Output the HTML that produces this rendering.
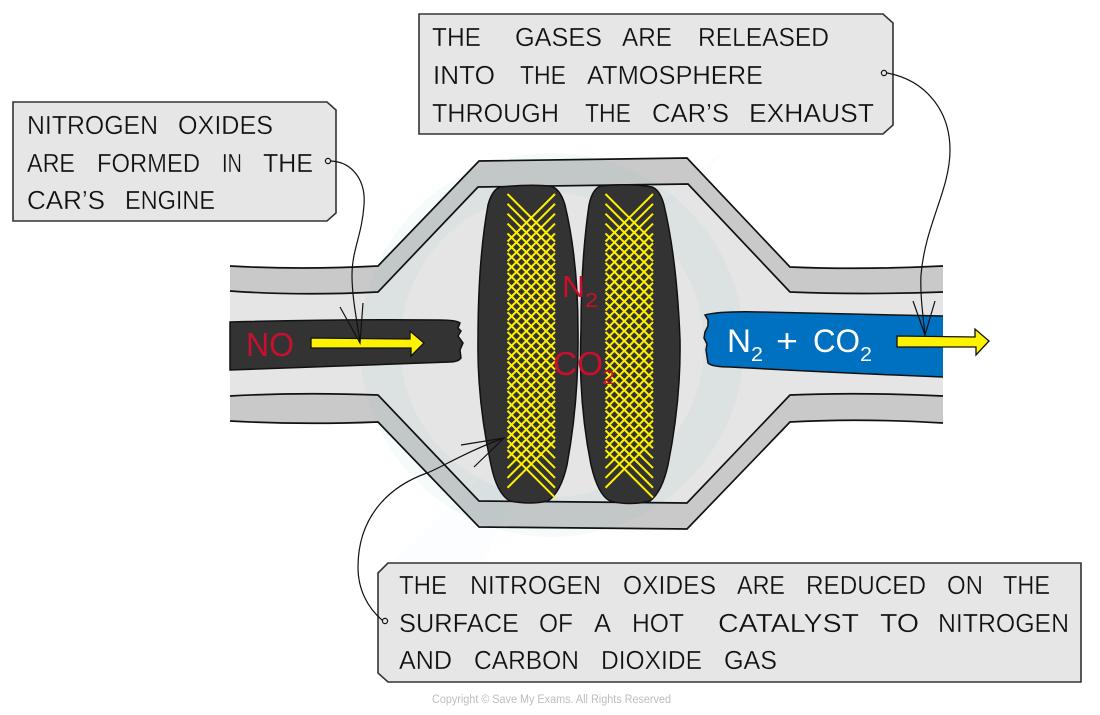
<!DOCTYPE html>
<html><head><meta charset="utf-8"><style>
html,body{margin:0;padding:0;background:#fff}
svg{display:block}
.t text{font-family:"Liberation Sans",sans-serif;font-size:25.5px;fill:#111;stroke:#e6e6e6;stroke-width:.3px}
.r{font-family:"Liberation Sans",sans-serif;fill:#c8102e}
.w{font-family:"Liberation Sans",sans-serif;fill:#fff}
</style></head><body>
<svg width="1100" height="715" viewBox="0 0 1100 715" xmlns="http://www.w3.org/2000/svg">
<rect width="1100" height="715" fill="#fff"/>
<!-- watermark on paper and tube -->
<path d="M230 280L378 280L479 175H687L790 280H943V410H790L687 515H479L378 410H230Z" fill="#e5e5e5"/>
<g fill="#c9c9c9">
<path d="M230 266Q300 270 378 266L479 161L687 158L790 267Q860 270 943 266V292Q860 295 790 292L688 184L478 187L378 292Q300 296 230 291Z"/>
<path d="M230 396Q300 392 378 395L479 501L687 503L790 395Q860 392 943 396V423Q860 418 790 422L687 529L479 527L378 422Q300 425 230 421Z"/>
</g>
<circle cx="552" cy="345" r="172" fill="none" stroke="#6fb6cc" stroke-width="40" opacity=".07"/>
<path d="M395 560L560 400L470 590Z M735 140L560 290L690 190Z" fill="#8fcbe0" opacity=".04"/>
<g fill="none" stroke="#111" stroke-width="1.7">
<path d="M230 266Q300 270 378 266L479 161L687 158L790 267Q860 270 943 266"/>
<path d="M230 291Q300 296 378 292L478 187L688 184L790 292Q860 295 943 292"/>
<path d="M230 396Q300 392 378 395L479 501L687 503L790 395Q860 392 943 396"/>
<path d="M230 421Q300 425 378 422L479 527L687 529L790 422Q860 418 943 423"/>
</g>
<!-- streams -->
<path d="M230 322Q340 319 440 320Q456 320 460 323L458 328L461 331L458 336L463 343L460 350L461 358Q458 362 450 362Q340 366 230 370Z" fill="#333" stroke="#111" stroke-width="1.5"/>
<path d="M943 316Q840 314 760 312Q720 311 705 315L708 320L708 326L705 332L704 338L707 344L706 350L708 363Q712 367 730 367Q840 373 943 377Z" fill="#0070c0"/>
<path d="M943 316Q840 314 760 312Q720 311 705 315L708 320L708 326L705 332L704 338L707 344L706 350L708 363Q712 367 730 367Q840 373 943 377" fill="none" stroke="#111" stroke-width="1.5"/>
<!-- catalyst -->
<path d="M500 187Q530 184 550 186Q560 188 565 205Q578 260 578 330Q579 400 567 465Q561 492 548 501Q530 505 510 501Q497 494 491 465Q477 400 478 340Q478 260 488 205Q492 190 500 187Z" fill="#333" stroke="#111" stroke-width="1.5"/>
<path d="M600 186Q630 183 652 187Q660 190 664 205Q677 260 680 340Q681 400 668 465Q662 492 650 501Q630 506 610 501Q598 495 591 465Q578 400 581 330Q581 260 589 205Q592 190 600 186Z" fill="#333" stroke="#111" stroke-width="1.5"/>
<g id="h" fill="none" stroke="#fff000" stroke-width="2">
<path d="M507.500 194l47.500 47.500m-47.500-37.650l47.500 47.500m-47.500-37.650l47.500 47.500m-47.500-37.650l47.500 47.500m-47.500-37.650l47.500 47.500m-47.500-37.650l47.500 47.500m-47.500-37.650l47.500 47.500m-47.500-37.650l47.500 47.500m-47.500-37.650l47.500 47.500m-47.500-37.650l47.500 47.500m-47.500-37.650l47.500 47.500m-47.500-37.650l47.500 47.500m-47.500-37.650l47.500 47.500m-47.500-37.650l47.500 47.500m-47.500-37.650l47.500 47.500m-47.500-37.650l47.500 47.500m-47.500-37.650l47.500 47.500m-47.500-37.650l47.500 47.500m-47.500-37.650l47.500 47.500m-47.500-37.650l47.500 47.500m-47.500-37.650l47.500 47.500m-47.500-37.650l47.500 47.500m-47.500-37.650l47.500 47.500m-47.500-37.650l47.500 47.500m-47.500-37.650l47.500 47.500m-47.500-37.650l47.500 47.500m-47.500-37.650l47.500 47.500"/>
<path d="M555 194l-47.500 47.500m47.500-37.650l-47.500 47.500m47.500-37.650l-47.500 47.500m47.500-37.650l-47.500 47.500m47.500-37.650l-47.500 47.500m47.500-37.650l-47.500 47.500m47.500-37.650l-47.500 47.500m47.500-37.650l-47.500 47.500m47.500-37.650l-47.500 47.500m47.500-37.650l-47.500 47.500m47.500-37.650l-47.500 47.500m47.500-37.650l-47.500 47.500m47.500-37.650l-47.500 47.500m47.500-37.650l-47.500 47.500m47.500-37.650l-47.500 47.500m47.500-37.650l-47.500 47.500m47.500-37.650l-47.500 47.500m47.500-37.650l-47.500 47.500m47.500-37.650l-47.500 47.500m47.500-37.650l-47.500 47.500m47.500-37.650l-47.500 47.500m47.500-37.650l-47.500 47.500m47.500-37.650l-47.500 47.500m47.500-37.650l-47.500 47.500m47.500-37.650l-47.500 47.500m47.500-37.650l-47.500 47.500"/>
</g>
<use href="#h" x="98" y="0"/>
<!-- arrows -->
<path d="M311 338L410 339V331L424 343L411 356V348L311 348Z" fill="#fff200" stroke="#111" stroke-width="1.3"/>
<path d="M897 336L975 337V329L989 341L976 355V347L897 347Z" fill="#fff200" stroke="#111" stroke-width="1.3"/>
<!-- boxes -->
<path d="M13 102H327L336 110V213L327 221H13Z" fill="#e6e6e6" stroke="#333" stroke-width="1.6"/>
<path d="M419 14H883L893 23V125L883 134H419Z" fill="#e6e6e6" stroke="#333" stroke-width="1.6"/>
<path d="M388 563H1081V682H388L378 673V573Z" fill="#e6e6e6" stroke="#333" stroke-width="1.6"/>
<!-- connectors -->
<g fill="none" stroke="#111" stroke-width="1.2">
<path d="M331 161C352 162 366 180 364 205C362 235 352 250 352 275C352 300 358 325 360 343"/>
<path d="M340 307L360 343L363 303"/>
<path d="M887 73C925 80 950 110 950 150C950 190 925 225 921 275C920 295 923 315 925 335"/>
<path d="M913 301L925 335L935 301"/>
<path d="M504 438C470 450 440 468 427 473C385 488 358 520 358 567C358 590 368 608 382 620"/>
<path d="M461 445L504 438L474 467"/>
<circle cx="328" cy="161" r="2.6" fill="#e6e6e6"/>
<circle cx="884" cy="73" r="2.6" fill="#e6e6e6"/>
<circle cx="385" cy="621" r="2.6" fill="#e6e6e6"/>
</g>
<!-- box text -->
<g class="t">
<text x="27" y="134" textLength="131" lengthAdjust="spacingAndGlyphs">NITROGEN</text>
<text x="178" y="134" textLength="95" lengthAdjust="spacingAndGlyphs">OXIDES</text>
<text x="27" y="172" textLength="48" lengthAdjust="spacingAndGlyphs">ARE</text>
<text x="97" y="172" textLength="103" lengthAdjust="spacingAndGlyphs">FORMED</text>
<text x="222" y="172" textLength="20" lengthAdjust="spacingAndGlyphs">IN</text>
<text x="263" y="172" textLength="50" lengthAdjust="spacingAndGlyphs">THE</text>
<text x="27" y="209" textLength="78" lengthAdjust="spacingAndGlyphs">CAR’S</text>
<text x="125" y="209" textLength="90" lengthAdjust="spacingAndGlyphs">ENGINE</text>

<text x="432" y="46" textLength="49" lengthAdjust="spacingAndGlyphs">THE</text>
<text x="515" y="46" textLength="87" lengthAdjust="spacingAndGlyphs">GASES</text>
<text x="622" y="46" textLength="50" lengthAdjust="spacingAndGlyphs">ARE</text>
<text x="698" y="46" textLength="131" lengthAdjust="spacingAndGlyphs">RELEASED</text>
<text x="433" y="84" textLength="62" lengthAdjust="spacingAndGlyphs">INTO</text>
<text x="520" y="84" textLength="46" lengthAdjust="spacingAndGlyphs">THE</text>
<text x="587" y="84" textLength="176" lengthAdjust="spacingAndGlyphs">ATMOSPHERE</text>
<text x="432" y="122" textLength="127" lengthAdjust="spacingAndGlyphs">THROUGH</text>
<text x="585" y="122" textLength="46" lengthAdjust="spacingAndGlyphs">THE</text>
<text x="652" y="122" textLength="77" lengthAdjust="spacingAndGlyphs">CAR’S</text>
<text x="749" y="122" textLength="125" lengthAdjust="spacingAndGlyphs">EXHAUST</text>

<text x="399" y="594" textLength="48" lengthAdjust="spacingAndGlyphs">THE</text>
<text x="470" y="594" textLength="131" lengthAdjust="spacingAndGlyphs">NITROGEN</text>
<text x="623" y="594" textLength="93" lengthAdjust="spacingAndGlyphs">OXIDES</text>
<text x="737" y="594" textLength="48" lengthAdjust="spacingAndGlyphs">ARE</text>
<text x="806" y="594" textLength="120" lengthAdjust="spacingAndGlyphs">REDUCED</text>
<text x="947" y="594" textLength="36" lengthAdjust="spacingAndGlyphs">ON</text>
<text x="1003" y="594" textLength="47" lengthAdjust="spacingAndGlyphs">THE</text>
<text x="399" y="632" textLength="120" lengthAdjust="spacingAndGlyphs">SURFACE</text>
<text x="539" y="632" textLength="34" lengthAdjust="spacingAndGlyphs">OF</text>
<text x="594" y="632" textLength="17" lengthAdjust="spacingAndGlyphs">A</text>
<text x="632" y="632" textLength="52" lengthAdjust="spacingAndGlyphs">HOT</text>
<text x="718" y="632" textLength="141" lengthAdjust="spacingAndGlyphs">CATALYST</text>
<text x="880" y="632" textLength="39" lengthAdjust="spacingAndGlyphs">TO</text>
<text x="938" y="632" textLength="131" lengthAdjust="spacingAndGlyphs">NITROGEN</text>
<text x="399" y="669" textLength="53" lengthAdjust="spacingAndGlyphs">AND</text>
<text x="474" y="669" textLength="105" lengthAdjust="spacingAndGlyphs">CARBON</text>
<text x="601" y="669" textLength="101" lengthAdjust="spacingAndGlyphs">DIOXIDE</text>
<text x="724" y="669" textLength="53" lengthAdjust="spacingAndGlyphs">GAS</text>
</g>
<!-- chemistry labels -->
<text class="r" x="246" y="356" font-size="33" textLength="48" lengthAdjust="spacingAndGlyphs">NO</text>
<text class="r" x="562" y="297" font-size="31" textLength="23" lengthAdjust="spacingAndGlyphs">N</text>
<text class="r" x="585" y="307" font-size="20" textLength="13" lengthAdjust="spacingAndGlyphs">2</text>
<text class="r" x="553" y="375" font-size="33" textLength="50" lengthAdjust="spacingAndGlyphs">CO</text>
<text class="r" x="602" y="384" font-size="20" textLength="13" lengthAdjust="spacingAndGlyphs">2</text>
<text class="w" x="727" y="352" font-size="32" textLength="24" lengthAdjust="spacingAndGlyphs">N</text>
<text class="w" x="751" y="361" font-size="20" textLength="12" lengthAdjust="spacingAndGlyphs">2</text>
<text class="w" x="776" y="352" font-size="32" textLength="22" lengthAdjust="spacingAndGlyphs">+</text>
<text class="w" x="813" y="352" font-size="32" textLength="47" lengthAdjust="spacingAndGlyphs">CO</text>
<text class="w" x="860" y="361" font-size="20" textLength="12" lengthAdjust="spacingAndGlyphs">2</text>
<!-- copyright -->
<text x="432" y="703" font-family="Liberation Sans, sans-serif" font-size="11.5" fill="#bdbdbd" textLength="239" lengthAdjust="spacingAndGlyphs">Copyright © Save My Exams. All Rights Reserved</text>
</svg>
</body></html>
